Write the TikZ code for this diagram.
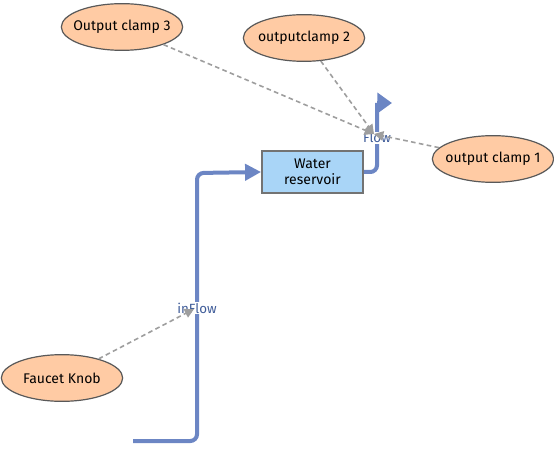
\documentclass[tikz,border=0pt]{standalone}
\usepackage{fontspec}
\setmainfont{Fira Sans}
\usetikzlibrary{shapes.geometric,arrows.meta}
\definecolor{clampfill}{HTML}{FFCBA4}
\definecolor{flowblue}{HTML}{6C86C4}
\definecolor{tankfill}{HTML}{A9D5F7}
\definecolor{labelblue}{HTML}{3F5C99}
\tikzset{
    clamp/.style={ellipse, draw=black!65, fill=clampfill, line width=0.9pt,
        minimum width=91pt, minimum height=35pt, inner xsep=-8pt, inner ysep=0pt,
        font=\fontsize{10.5}{12}\selectfont},
    tank/.style={rectangle, draw=black!55, fill=tankfill, line width=1.1pt,
        minimum width=76pt, minimum height=31.5pt, align=center, font=\fontsize{10.5}{12}\selectfont},
    flowlabel/.style={fill=white, text=labelblue, inner sep=0.5pt, font=\fontsize{10}{12}\selectfont},
    flowline/.style={draw=flowblue, line width=3pt, rounded corners=5pt},
    hint/.style={draw=black!38, line width=1.2pt, dash pattern=on 3.5pt off 2.5pt,
        -{Triangle[length=7pt,width=7pt,fill=black!38]}},
}
\begin{document}
\begin{tikzpicture}[x=0.75pt,y=-0.75pt]
\useasboundingbox (0,0) rectangle (554,453);
\node[clamp] (clamp3) at (122,27) {Output clamp 3};
\node[clamp] (clamp2) at (304,38) {outputclamp 2};
\node[clamp] (clamp1) at (493,159) {output clamp 1};
\node[clamp] (knob) at (62,378) {Faucet Knob};
\node[tank] (tank) at (312.5,172) {Water\\reservoir};
\coordinate (src) at (133,441);
\coordinate (bend) at (377,103);
\coordinate (sink) at (392,103);
\coordinate (flowin) at (374,134);
\coordinate (inflowin) at (194,309);

% flows
\draw[flowline, -{Triangle[length=12pt,width=12pt]}] (src) -- (197,441) -- (197,173) -- (tank.west);
\draw[flowline] (tank.east) -| (bend);
\draw[flowline, rounded corners=0pt, -{Triangle[length=11pt,width=15pt]}] (bend) -- (sink);
\node[flowlabel] (flow) at (377,138) {Flow};
\node[flowlabel] (inflow) at (197,308) {inFlow};

% connectors
\draw[hint] (clamp3) -- (flowin);
\draw[hint] (clamp2) -- (flowin);
\draw[hint] (clamp1) -- (flowin);
\draw[hint] (knob) -- (inflowin);
\end{tikzpicture}
\end{document}
